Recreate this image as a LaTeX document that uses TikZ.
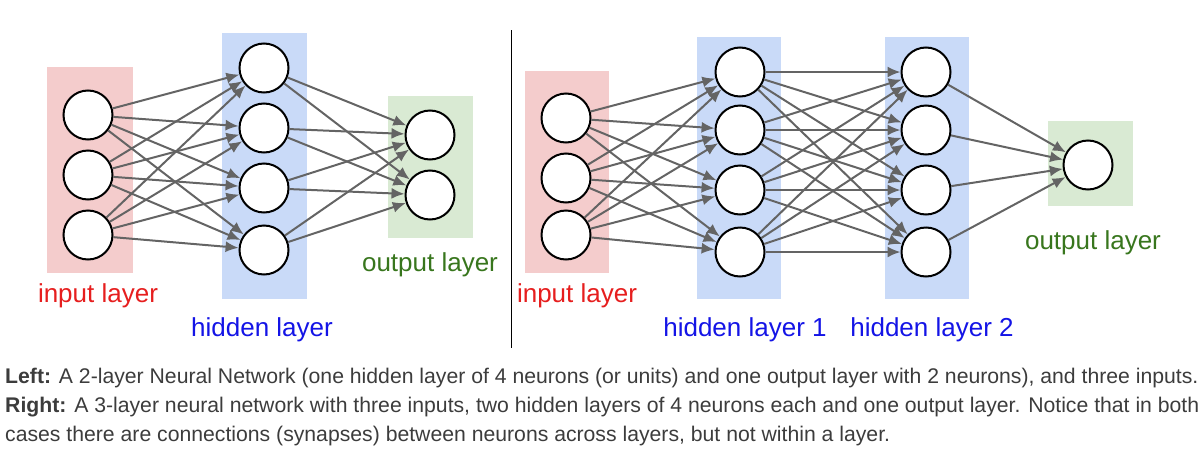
\documentclass[tikz,border=0pt]{standalone}
\usepackage{fontspec}
\setmainfont{Liberation Sans}
\usetikzlibrary{arrows.meta}
\definecolor{pinkb}{RGB}{244,204,204}
\definecolor{blueb}{RGB}{201,218,248}
\definecolor{greenb}{RGB}{217,234,211}
\definecolor{lred}{RGB}{230,30,30}
\definecolor{lblue}{RGB}{20,20,230}
\definecolor{lgreen}{RGB}{56,118,29}
\definecolor{arr}{RGB}{100,100,100}
\definecolor{cap}{RGB}{60,60,60}
\begin{document}
\begin{tikzpicture}[x=1pt,y=-1pt,
  neu/.style={circle,draw=black,fill=white,line width=2pt,minimum size=49pt,inner sep=0pt},
  con/.style={draw=arr,line width=2pt,-{Latex[length=13pt,width=11pt]}},
  lab/.style={font=\fontsize{26}{30}\selectfont},
  capt/.style={font=\fontsize{21.2}{24}\selectfont,text=cap,anchor=west,inner sep=0pt}]
\useasboundingbox (0,0) rectangle (1204,458);
% backgrounds
\fill[pinkb] (47,67) rectangle (133,273);
\fill[blueb] (222,33) rectangle (307,299);
\fill[greenb] (388,96) rectangle (473,238);
\fill[pinkb] (525,71) rectangle (609,273);
\fill[blueb] (697,37) rectangle (781,299);
\fill[blueb] (885,37) rectangle (969,299);
\fill[greenb] (1048,121) rectangle (1133,206);
\draw[black,line width=1pt] (511,30) -- (511,348);
% left nodes
\foreach \i/\y in {1/115,2/175,3/235} \node[neu] (a\i) at (88,\y) {};
\foreach \i/\y in {1/68,2/128,3/188,4/250} \node[neu] (b\i) at (264,\y) {};
\foreach \i/\y in {1/135,2/195} \node[neu] (c\i) at (430,\y) {};
% right nodes
\foreach \i/\y in {1/118,2/178,3/235} \node[neu] (d\i) at (566,\y) {};
\foreach \i/\y in {1/72,2/130,3/190,4/252} \node[neu] (e\i) at (740,\y) {};
\foreach \i/\y in {1/72,2/130,3/190,4/252} \node[neu] (f\i) at (926,\y) {};
\node[neu] (g1) at (1088,165) {};
% connections
\foreach \i in {1,2,3} \foreach \j in {1,2,3,4} \draw[con] (a\i) -- (b\j);
\foreach \i in {1,2,3,4} \foreach \j in {1,2} \draw[con] (b\i) -- (c\j);
\foreach \i in {1,2,3} \foreach \j in {1,2,3,4} \draw[con] (d\i) -- (e\j);
\foreach \i in {1,2,3,4} \foreach \j in {1,2,3,4} \draw[con] (e\i) -- (f\j);
\foreach \i in {1,2,3,4} \draw[con] (f\i) -- (g1);
% labels
\node[lab,text=lred] (l1) at (98,296) {input layer};
\node[lab,text=lblue] (l2) at (262,330) {hidden layer};
\node[lab,text=lgreen] (l3) at (430,265) {output layer};
\node[lab,text=lred] (l4) at (577,296) {input layer};
\node[lab,text=lblue] (l5) at (745,330) {hidden layer 1};
\node[lab,text=lblue] (l6) at (932,330) {hidden layer 2};
\node[lab,text=lgreen] (l7) at (1093,243) {output layer};
% caption
\node[capt] (t1) at (5,378) {\textbf{Left:} A 2-layer Neural Network (one hidden layer of 4 neurons (or units) and one output layer with 2 neurons), and three inputs.};
\node[capt] (t2) at (5,407) {\textbf{Right:} A 3-layer neural network with three inputs, two hidden layers of 4 neurons each and one output layer. Notice that in both};
\node[capt] (t3) at (5,436) {cases there are connections (synapses) between neurons across layers, but not within a layer.};
\end{tikzpicture}
\end{document}
